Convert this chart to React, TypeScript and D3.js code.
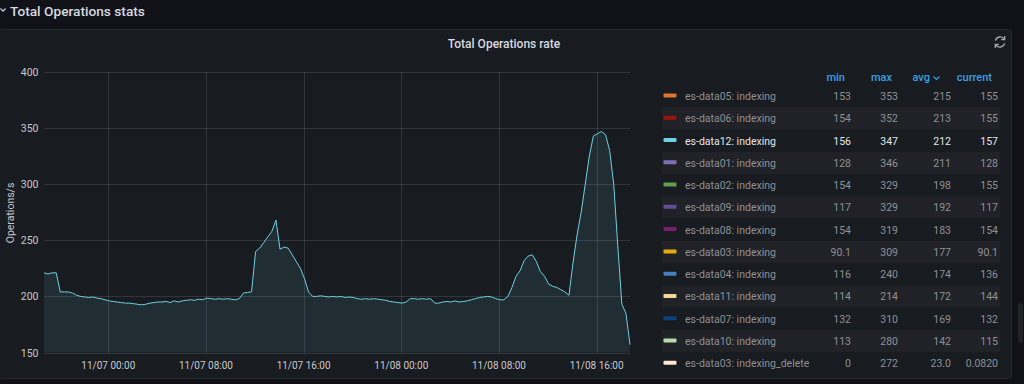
import React, { useRef, useEffect } from "react";
import * as d3 from "d3";

// es-data12: indexing, one sample every 20 minutes from 11/06 18:44 (UTC)
const startTime = Date.UTC(2020, 10, 6, 18, 44);
const stepMinutes = 20;
const rateValues = [
  221, 220, 221, 221, 204, 204, 204, 203, 201, 200,
  199.5, 199, 199.5, 198.5, 198, 197, 196, 195.5, 195, 194.5,
  194, 194, 193.5, 193, 192.5, 193, 194, 194.5, 195, 195,
  195.5, 194.5, 196, 195, 196, 196.5, 197, 196.5, 197.5, 197,
  198.5, 198, 197.5, 198, 197.5, 198, 197.5, 197, 198, 203,
  203.5, 204, 240, 243, 248, 253, 258, 268, 242, 244,
  243, 237, 231, 225, 216, 204, 200, 200, 200.5, 200,
  199.5, 200, 199.5, 200, 199, 199.5, 199, 198, 197.5, 198,
  197.5, 198, 197.5, 197, 196.5, 195.5, 195, 194.5, 194, 195,
  198, 198, 197.5, 198, 197.5, 198, 194, 194, 195, 195.5,
  195, 196, 195, 195.5, 196, 197, 198, 199, 199.5, 200,
  199.5, 198, 197, 197, 200, 208, 218, 223, 232, 236,
  237, 231, 222, 218, 211, 209, 208, 206, 204, 201,
  230, 255, 275, 300, 325, 343, 345, 347, 344, 330,
  300, 245, 193, 185, 157,
];

const yTicks = [150, 200, 250, 300, 350, 400];

// legend table
const legendNames = [
  "es-data05: indexing",
  "es-data06: indexing",
  "es-data12: indexing",
  "es-data01: indexing",
  "es-data02: indexing",
  "es-data09: indexing",
  "es-data08: indexing",
  "es-data03: indexing",
  "es-data04: indexing",
  "es-data11: indexing",
  "es-data07: indexing",
  "es-data10: indexing",
  "es-data03: indexing_delete",
];
const legendColors = [
  "#E0752D", "#99160A", "#6ED0E0", "#806EB7", "#629E51", "#614D93", "#7A1F6C",
  "#E5AC0E", "#447EBC", "#F4D598", "#0A437C", "#B7DBAB", "#FCEACA",
];
const legendMin = ["153", "154", "156", "128", "154", "117", "154", "90.1", "116", "114", "132", "113", "0"];
const legendMax = ["353", "352", "347", "346", "329", "329", "319", "309", "240", "214", "310", "280", "272"];
const legendAvg = ["215", "213", "212", "211", "198", "192", "183", "177", "174", "172", "169", "142", "23.0"];
const legendCurrent = ["155", "155", "157", "128", "155", "117", "154", "90.1", "136", "144", "132", "115", "0.0820"];
const legendColumns = ["min", "max", "avg", "current"];
const shownSeries = 2;

const font = "Roboto, 'Noto Sans', sans-serif";

const App = () => {
  const ref = useRef<SVGSVGElement>(null);

  useEffect(() => {
    if (!ref.current) return;
    const svg = d3.select(ref.current);
    svg.selectAll("*").remove();

    // page + panel backgrounds
    svg.append("rect").attr("width", 1024).attr("height", 384).attr("fill", "#111217");
    svg
      .append("rect")
      .attr("x", -1)
      .attr("y", 29.5)
      .attr("width", 1012.5)
      .attr("height", 349)
      .attr("rx", 2)
      .attr("fill", "#181b1f")
      .attr("stroke", "#24262b");
    svg.append("rect").attr("x", 1018).attr("y", 303).attr("width", 5).attr("height", 40).attr("rx", 2.5).attr("fill", "#202226");

    // row header
    svg
      .append("path")
      .attr("d", "M0.5,8.5 L3,11.2 L5.5,8.5")
      .attr("fill", "none")
      .attr("stroke", "#ccccdc")
      .attr("stroke-width", 1.2);
    svg
      .append("text")
      .attr("x", 10)
      .attr("y", 15.5)
      .attr("font-family", font)
      .attr("font-size", 13.7)
      .attr("font-weight", 500)
      .attr("fill", "#d8d9e0")
      .text("Total Operations stats");

    // panel title
    svg
      .append("text")
      .attr("x", 504)
      .attr("y", 48)
      .attr("text-anchor", "middle")
      .attr("font-family", font)
      .attr("font-size", 12)
      .attr("font-weight", 500)
      .attr("fill", "#d8d9e0")
      .text("Total Operations rate");

    // refresh icon
    const icon = svg.append("g").attr("fill", "none").attr("stroke", "#a5a7ad").attr("stroke-width", 1.3);
    icon.append("path").attr("d", "M995.3,40.6 A5,5 0 0 1 1004.4,39.4");
    icon.append("path").attr("d", "M1004.7,36 L1004.7,39.7 L1001.1,39.7");
    icon.append("path").attr("d", "M1004.7,43.4 A5,5 0 0 1 995.6,44.6");
    icon.append("path").attr("d", "M995.3,48 L995.3,44.3 L998.9,44.3");

    // chart
    const endTime = startTime + (rateValues.length - 1) * stepMinutes * 60000;
    const x = d3.scaleUtc().domain([new Date(startTime), new Date(endTime)]).range([44, 630]);
    const y = d3.scaleLinear().domain([150, 400]).range([352.5, 72]);
    const points = rateValues.map((v, i) => ({ t: new Date(startTime + i * stepMinutes * 60000), v }));
    const xTicks = x.ticks(d3.utcHour.every(8)!);
    const fmt = d3.utcFormat("%m/%d %H:%M");

    const grid = svg.append("g").attr("stroke", "rgba(204,204,220,0.15)").attr("stroke-width", 1);
    grid
      .selectAll("line.h")
      .data(yTicks)
      .join("line")
      .attr("x1", 44)
      .attr("x2", 630)
      .attr("y1", (d) => Math.round(y(d)) + 0.5)
      .attr("y2", (d) => Math.round(y(d)) + 0.5);
    grid
      .selectAll("line.v")
      .data(xTicks)
      .join("line")
      .attr("x1", (d) => Math.round(x(d)) + 0.5)
      .attr("x2", (d) => Math.round(x(d)) + 0.5)
      .attr("y1", 72)
      .attr("y2", 353);

    svg
      .append("g")
      .selectAll("text")
      .data(yTicks)
      .join("text")
      .attr("x", 38.5)
      .attr("y", (d) => y(d) + 4)
      .attr("text-anchor", "end")
      .attr("font-family", font)
      .attr("font-size", 10.5)
      .attr("fill", "#c7c8d0")
      .text((d) => d);

    svg
      .append("g")
      .selectAll("text")
      .data(xTicks)
      .join("text")
      .attr("x", (d) => x(d))
      .attr("y", 369)
      .attr("text-anchor", "middle")
      .attr("font-family", font)
      .attr("font-size", 10)
      .attr("fill", "#c7c8d0")
      .text((d) => fmt(d));

    svg
      .append("text")
      .attr("transform", "translate(14,213) rotate(-90)")
      .attr("text-anchor", "middle")
      .attr("font-family", font)
      .attr("font-size", 10.5)
      .attr("fill", "#c7c8d0")
      .text("Operations/s");

    const area = d3
      .area<{ t: Date; v: number }>()
      .x((d) => x(d.t))
      .y0(y(150))
      .y1((d) => y(d.v));
    const line = d3
      .line<{ t: Date; v: number }>()
      .x((d) => x(d.t))
      .y((d) => y(d.v));

    svg.append("path").datum(points).attr("d", area).attr("fill", legendColors[shownSeries]).attr("fill-opacity", 0.1);
    svg
      .append("path")
      .datum(points)
      .attr("d", line)
      .attr("fill", "none")
      .attr("stroke", legendColors[shownSeries])
      .attr("stroke-width", 1);

    // legend table
    const colRight = [851, 898, 951, 998];
    const rowY = (i: number) => 96 + i * 22.27;
    const legend = svg.append("g").attr("font-family", font).attr("font-size", 10.5);

    legend
      .selectAll("rect.band")
      .data(legendNames.map((_, i) => i).filter((i) => i % 2 === 1))
      .join("rect")
      .attr("x", 662)
      .attr("y", (i) => rowY(i) - 11)
      .attr("width", 338)
      .attr("height", 22)
      .attr("fill", "#202227");

    legend
      .selectAll("text.head")
      .data(legendColumns)
      .join("text")
      .attr("x", (d, i) => (d === "avg" ? colRight[i] - 21 : colRight[i] - 6))
      .attr("y", 81)
      .attr("text-anchor", "end")
      .attr("font-weight", 500)
      .attr("font-size", 11)
      .attr("fill", "#33a2e5")
      .text((d) => d);
    legend
      .append("path")
      .attr("d", "M933.5,76.5 L936.5,79.5 L939.5,76.5")
      .attr("fill", "none")
      .attr("stroke", "#33a2e5")
      .attr("stroke-width", 1.2);

    const rows = legend
      .selectAll("g.row")
      .data(legendNames)
      .join("g")
      .attr("transform", (_, i) => `translate(0,${rowY(i)})`);
    rows
      .append("rect")
      .attr("x", 663.5)
      .attr("y", -2.5)
      .attr("width", 13)
      .attr("height", 4)
      .attr("rx", 1)
      .attr("fill", (_, i) => legendColors[i]);
    const textColor = (i: number) => (i === shownSeries ? "#e4e5ea" : "#8f9096");
    rows
      .append("text")
      .attr("x", 685)
      .attr("y", 4)
      .attr("fill", (_, i) => textColor(i))
      .text((d) => d);
    [legendMin, legendMax, legendAvg, legendCurrent].forEach((col, c) => {
      rows
        .append("text")
        .attr("x", colRight[c])
        .attr("y", 4)
        .attr("text-anchor", "end")
        .attr("fill", (_, i) => textColor(i))
        .text((_, i) => col[i]);
    });
  }, []);

  return (
    <svg
      ref={ref}
      width={1024}
      height={384}
      style={{ position: "absolute", left: 0, top: 0, display: "block" }}
    />
  );
};

export default App;
